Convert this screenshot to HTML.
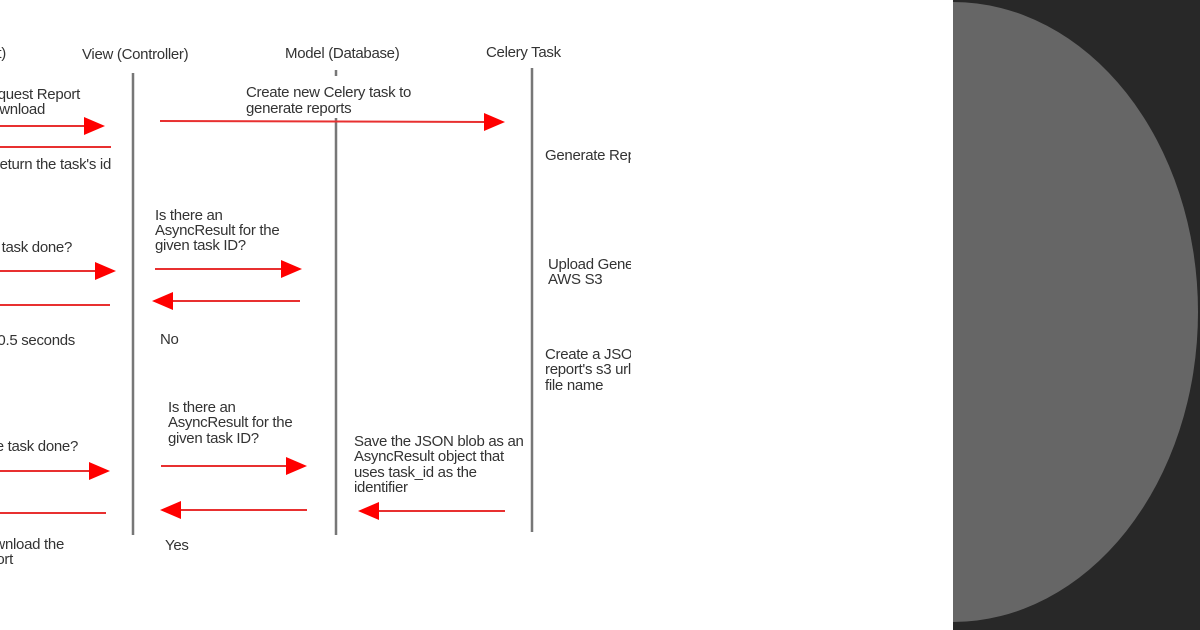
<!DOCTYPE html>
<html><head><meta charset="utf-8"><style>
html,body{margin:0;padding:0;width:1200px;height:630px;overflow:hidden;background:#fff}
svg{display:block}
text{font-family:"Liberation Sans",sans-serif;font-size:15px;fill:#333;letter-spacing:-0.3px}
</style></head><body>
<svg width="1200" height="630" viewBox="0 0 1200 630" xmlns="http://www.w3.org/2000/svg">
<defs><clipPath id="c"><rect x="0" y="0" width="631" height="630"/></clipPath>
<clipPath id="r"><rect x="953" y="0" width="247" height="630"/></clipPath></defs>
<rect x="953" y="0" width="247" height="630" fill="#282828"/>
<ellipse cx="953" cy="312" rx="245" ry="310" fill="#666" clip-path="url(#r)"/>
<g clip-path="url(#c)">
<g stroke="#777" stroke-width="2.5">
<line x1="133" y1="73" x2="133" y2="535"/>
<line x1="336" y1="70" x2="336" y2="76"/>
<line x1="336" y1="118" x2="336" y2="535"/>
<line x1="532" y1="68" x2="532" y2="532"/>
</g>
<g stroke="#e83030" stroke-width="2">
<line x1="0" y1="126" x2="88" y2="126"/>
<line x1="0" y1="147" x2="111" y2="147"/>
<line x1="160" y1="121" x2="488" y2="122"/>
<line x1="0" y1="271" x2="98" y2="271"/>
<line x1="0" y1="305" x2="110" y2="305"/>
<line x1="155" y1="269" x2="285" y2="269"/>
<line x1="170" y1="301" x2="300" y2="301"/>
<line x1="0" y1="471" x2="92" y2="471"/>
<line x1="0" y1="513" x2="106" y2="513"/>
<line x1="161" y1="466" x2="290" y2="466"/>
<line x1="177" y1="510" x2="307" y2="510"/>
<line x1="375" y1="511" x2="505" y2="511"/>
</g>
<g fill="#f00">
<polygon points="105,126 84,117 84,135"/>
<polygon points="505,122 484,113 484,131"/>
<polygon points="116,271 95,262 95,280"/>
<polygon points="302,269 281,260 281,278"/>
<polygon points="152,301 173,292 173,310"/>
<polygon points="110,471 89,462 89,480"/>
<polygon points="307,466 286,457 286,475"/>
<polygon points="160,510 181,501 181,519"/>
<polygon points="358,511 379,502 379,520"/>
</g>
<g transform="translate(0,2)">
<text x="6" y="56" text-anchor="end">(Client)</text>
<text x="82" y="57">View (Controller)</text>
<text x="285" y="56">Model (Database)</text>
<text x="486" y="55">Celery Task</text>
<text x="80" y="97" text-anchor="end">Request Report</text>
<text x="45" y="112" text-anchor="end">Download</text>
<text x="111" y="167" text-anchor="end">Return the task's id</text>
<text x="246" y="95">Create new Celery task  to</text>
<text x="246" y="111">generate reports</text>
<text x="545" y="158">Generate Report</text>
<text x="155" y="218">Is there an</text>
<text x="155" y="233">AsyncResult for the</text>
<text x="155" y="248">given task ID?</text>
<text x="72" y="250" text-anchor="end">Is the task done?</text>
<text x="548" y="267">Upload Generated</text>
<text x="548" y="282">AWS S3</text>
<text x="75" y="343" text-anchor="end">Wait 0.5 seconds</text>
<text x="160" y="342">No</text>
<text x="545" y="357">Create a JSON</text>
<text x="545" y="372">report's s3 url</text>
<text x="545" y="388">file name</text>
<text x="168" y="410">Is there an</text>
<text x="168" y="425">AsyncResult for the</text>
<text x="168" y="441">given task ID?</text>
<text x="78" y="449" text-anchor="end">Is the task done?</text>
<text x="354" y="444">Save the JSON blob as an</text>
<text x="354" y="459">AsyncResult object that</text>
<text x="354" y="475">uses task_id as the</text>
<text x="354" y="490">identifier</text>
<text x="64" y="547" text-anchor="end">Download the</text>
<text x="13" y="562" text-anchor="end">report</text>
<text x="165" y="548">Yes</text>
</g>
</g>
</svg>
</body></html>
